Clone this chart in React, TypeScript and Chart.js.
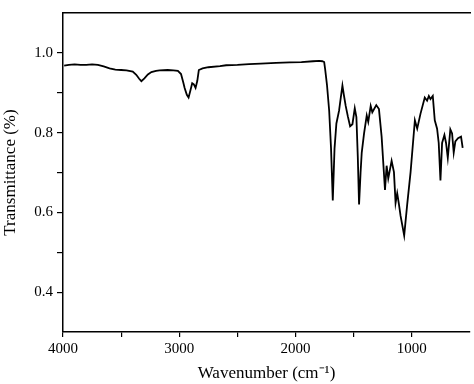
import React, { useEffect, useRef } from "react";
import { Chart, registerables } from "chart.js";

Chart.register(...registerables);

const wavenumbers = [
  3990, 3950, 3900, 3850, 3800, 3750, 3700, 3650, 3600, 3550, 3500, 3454, 3400, 3370, 3345, 3326, 3300, 3270, 3240, 3200, 3169, 3100, 3050, 3012, 2985, 2965, 2954, 2935, 2920, 2905, 2889, 2875, 2860, 2845, 2832, 2800, 2750, 2650, 2597, 2500, 2400, 2300, 2168, 2050, 1950, 1850, 1797, 1770, 1754, 1746, 1730, 1711, 1695, 1680, 1665, 1649, 1626, 1610, 1597, 1585, 1569, 1550, 1531, 1511, 1491, 1477, 1465, 1454, 1441, 1431, 1411, 1388, 1375, 1354, 1340, 1306, 1283, 1260, 1231, 1217, 1203, 1174, 1154, 1140, 1126, 1111, 1097, 1066, 1040, 1011, 974, 954, 926, 889, 869, 854, 840, 820, 803, 783, 769, 754, 740, 720, 706, 691, 669, 654, 640, 626, 603, 577, 563,
];

const transmittance = [
  0.968, 0.970, 0.971, 0.970, 0.970, 0.971, 0.970, 0.966, 0.961, 0.958, 0.957, 0.956, 0.953, 0.945, 0.935, 0.929, 0.936, 0.946, 0.952, 0.955, 0.956, 0.957, 0.956, 0.955, 0.947, 0.925, 0.912, 0.895, 0.888, 0.905, 0.924, 0.921, 0.912, 0.930, 0.957, 0.961, 0.964, 0.967, 0.969, 0.970, 0.972, 0.973, 0.975, 0.976, 0.977, 0.979, 0.980, 0.979, 0.977, 0.960, 0.920, 0.855, 0.760, 0.630, 0.760, 0.823, 0.855, 0.890, 0.918, 0.895, 0.867, 0.840, 0.816, 0.821, 0.861, 0.839, 0.740, 0.620, 0.700, 0.750, 0.798, 0.843, 0.827, 0.867, 0.851, 0.869, 0.859, 0.790, 0.656, 0.717, 0.685, 0.729, 0.701, 0.624, 0.648, 0.620, 0.591, 0.542, 0.620, 0.701, 0.831, 0.810, 0.847, 0.888, 0.880, 0.892, 0.884, 0.892, 0.831, 0.810, 0.774, 0.680, 0.774, 0.794, 0.774, 0.737, 0.808, 0.798, 0.750, 0.778, 0.786, 0.790, 0.762,
];

const xTickLabels = [4000, 3000, 2000, 1000];
const yTickLabels = [0.4, 0.6, 0.8, 1.0];

const FONT = "'Liberation Serif', 'Times New Roman', serif";

export default function App() {
  const ref = useRef<HTMLCanvasElement | null>(null);

  useEffect(() => {
    if (!ref.current) return;
    const data = wavenumbers.map((w, i) => ({ x: w, y: transmittance[i] }));
    const chart = new Chart(ref.current, {
      type: "line",
      data: {
        datasets: [
          {
            data,
            borderColor: "#000000",
            borderWidth: 1.8,
            pointRadius: 0,
            tension: 0,
            fill: false,
          },
        ],
      },
      options: {
        animation: false,
        responsive: false,
        layout: { padding: { left: 0, right: 4, top: 0, bottom: 0 } },
        plugins: {
          legend: { display: false },
          tooltip: { enabled: false },
        },
        scales: {
          x: {
            type: "linear",
            reverse: true,
            min: 500,
            max: 4000,
            position: "bottom",
            afterFit: (s: any) => {
              s.height = 52;
            },
            border: { display: true, color: "#000", width: 1.5 },
            grid: {
              display: true,
              drawOnChartArea: false,
              drawTicks: true,
              tickLength: 5,
              color: "#000",
              lineWidth: 1.2,
              tickColor: (ctx: any) =>
                ctx.tick && Number(ctx.tick.value) === 500 ? "rgba(0,0,0,0)" : "#000",
            },
            ticks: {
              stepSize: 500,
              autoSkip: false,
              maxRotation: 0,
              color: "#000",
              padding: 3,
              font: { family: FONT, size: 15 },
              callback: (v: any) => (xTickLabels.includes(Number(v)) ? String(v) : ""),
            },
            title: {
              display: true,
              text: "Wavenumber (cm\u207B\u00B9)",
              color: "#000",
              font: { family: FONT, size: 17 },
              padding: { top: 2, bottom: 0 },
            },
          },
          xTop: {
            type: "linear",
            position: "top",
            reverse: true,
            min: 500,
            max: 4000,
            afterFit: (s: any) => {
              s.height = 4;
            },
            border: { display: true, color: "#000", width: 1.5 },
            grid: { display: false, drawTicks: false },
            ticks: { display: false },
          },
          y: {
            type: "linear",
            min: 0.3,
            max: 1.1,
            afterFit: (s: any) => {
              s.width = 63;
            },
            border: { display: true, color: "#000", width: 1.5 },
            grid: {
              display: true,
              drawOnChartArea: false,
              drawTicks: true,
              tickLength: 6,
              color: "#000",
              lineWidth: 1.2,
              tickColor: (ctx: any) => {
                const v = ctx.tick ? Number(ctx.tick.value) : 0;
                return v < 0.35 || v > 1.05 ? "rgba(0,0,0,0)" : "#000";
              },
            },
            ticks: {
              stepSize: 0.1,
              autoSkip: false,
              color: "#000",
              padding: 4,
              font: { family: FONT, size: 15 },
              callback: (v: any) => {
                const n = Math.round(Number(v) * 10) / 10;
                return yTickLabels.some((t) => Math.abs(t - n) < 1e-6) ? n.toFixed(1) : "";
              },
            },
            title: {
              display: true,
              text: "Transmittance (%)",
              color: "#000",
              font: { family: FONT, size: 17 },
              padding: { top: 0, bottom: 4 },
            },
          },
        },
      },
    });
    return () => chart.destroy();
  }, []);

  return (
    <div style={{ position: "absolute", left: 0, top: 0, width: 474, height: 384, background: "#fff" }}>
      <canvas ref={ref} width={474} height={384} />
    </div>
  );
}
